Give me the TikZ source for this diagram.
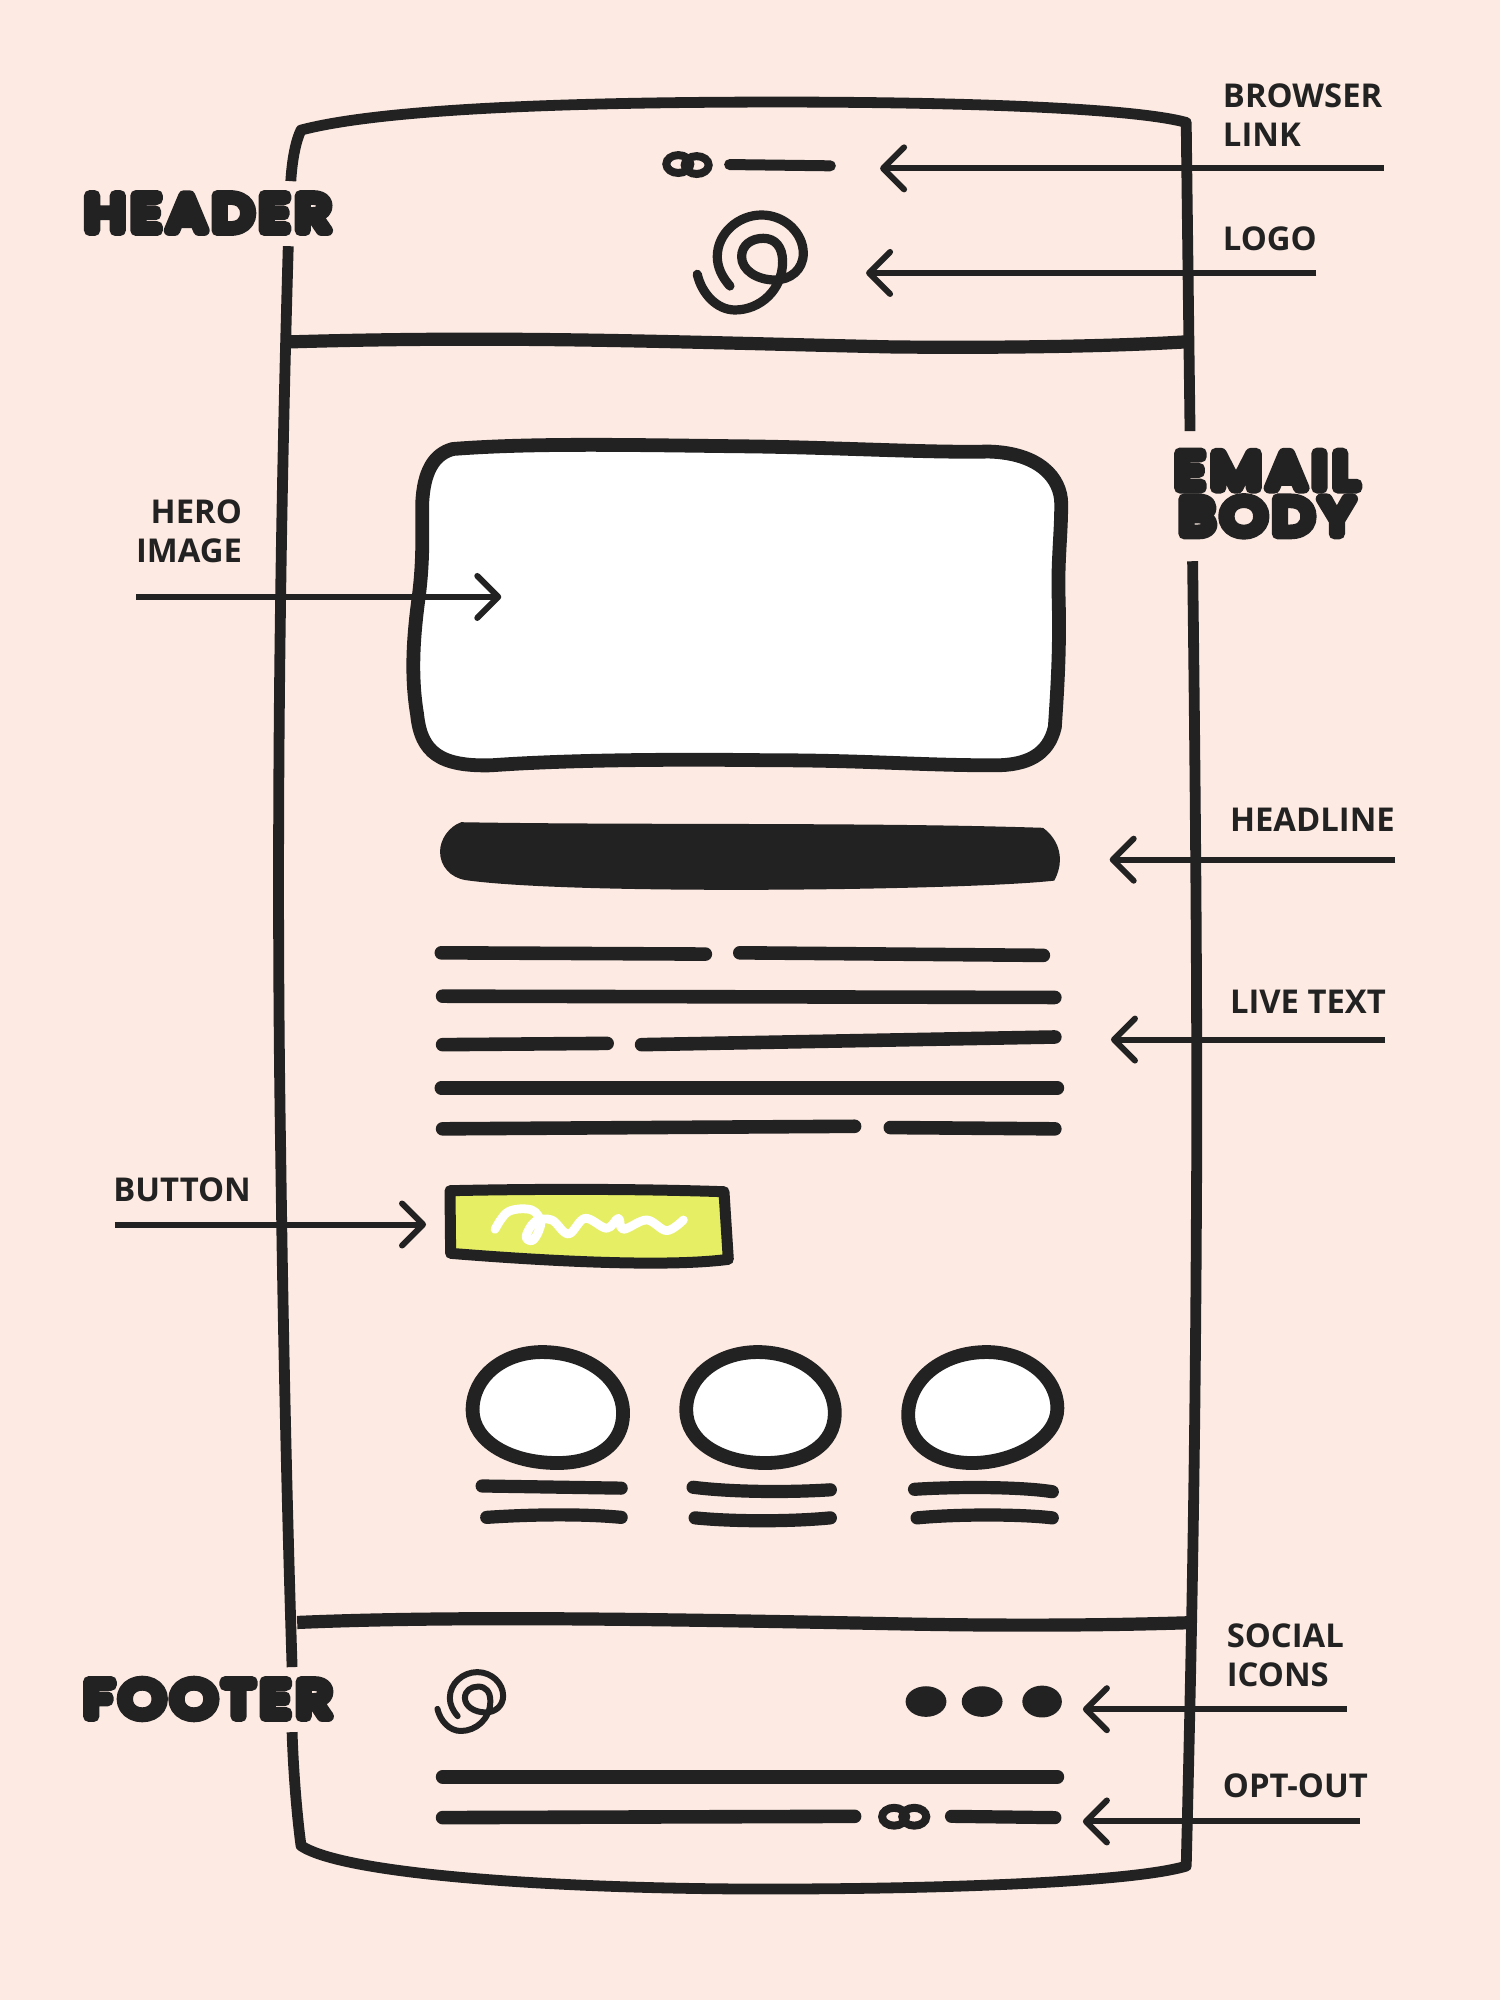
\documentclass[tikz,border=0pt]{standalone}
\usepackage{fontspec}
\usetikzlibrary{arrows.meta}
\setmainfont{Open Sans}[UprightFont=* Bold]
\newfontfamily\bubblefont{Poppins}[FakeBold=22,FakeStretch=1.15,LetterSpace=13]
\definecolor{bgc}{HTML}{FDEAE2}
\definecolor{ink}{HTML}{222222}
\definecolor{btn}{HTML}{E6EE63}
\newcommand{\logomark}[1]{%
  \draw[ink,line width=#1,line cap=round,line join=round] (210,468) .. controls (185,440) and (172,410) .. (172,380) .. controls (172,310) and (235,255) .. (305,255) .. controls (375,255) and (430,310) .. (430,370) .. controls (430,420) and (390,450) .. (345,450) .. controls (290,450) and (245,420) .. (245,380) .. controls (245,345) and (275,325) .. (310,325) .. controls (345,325) and (368,350) .. (368,395) .. controls (368,480) and (300,540) .. (225,540) .. controls (170,540) and (125,490) .. (112,433);}
\tikzset{
  frameline/.style={ink,line width=5.4pt,line cap=butt,line join=round},
  band/.style={ink,line width=6.6pt,line cap=butt},
  textline/.style={ink,line width=6.8pt,line cap=round},
  subline/.style={ink,line width=6.6pt,line cap=round},
  pointer/.style={ink,line width=3pt,line cap=butt,-{Straight Barb[length=10.5pt,width=21pt,line width=3pt,round]}},
  blob/.style={ink,fill=white,line width=6.9pt,line join=round},
  ring/.style={ink,line width=4pt},
  caption/.style={ink,font=\fontsize{16.4}{19.6}\selectfont,inner sep=0pt,align=left},
  bubble/.style={ink,line join=round,font=\fontsize{25}{22.9}\selectfont\bubblefont\special{pdf:code 1 j 1 J},inner sep=0pt,align=center},
}
\begin{document}
\begin{tikzpicture}[x=0.63776pt,y=-0.63776pt]
\useasboundingbox[fill=bgc] (0,0) rectangle (1176,1568);
% frame
\draw[frameline] (228,142) .. controls (229,125) and (232,110) .. (236,102) .. controls (300,85) and (450,80) .. (610,80) .. controls (760,80) and (890,85) .. (930,96) .. controls (931,180) and (932,260) .. (933,338);
\draw[frameline] (226,193) .. controls (220,400) and (216,650) .. (220,900) .. controls (222,1050) and (225,1180) .. (229,1307);
\draw[frameline] (229,1358) .. controls (230,1390) and (233,1425) .. (236,1447) .. controls (270,1470) and (440,1481) .. (600,1481) .. controls (750,1481) and (890,1475) .. (930,1463) .. controls (934,1300) and (937,1150) .. (938,950) .. controls (939,800) and (937,600) .. (935,440);
\draw[band] (228,268) .. controls (400,263) and (520,268) .. (700,272) .. controls (800,273) and (880,271) .. (930,268);
\draw[band] (233,1272) .. controls (350,1267) and (500,1269) .. (700,1273) .. controls (800,1275) and (880,1274) .. (938,1272);
% browser link
\draw[ring] (531.8,128.6) circle[x radius=9.4,y radius=7];
\draw[ring] (546.2,129.4) circle[x radius=9.4,y radius=7];
\draw[ink,line width=5.5pt,line cap=round] (572,129) -- (651,130);
% logo
\begin{scope}[shift={(517.4,101.9)},x=.16667pt,y=-.16667pt]
\logomark{4.6pt}
\end{scope}
% hero
\draw[blob] (355,352) .. controls (420,347) and (500,349) .. (590,350) .. controls (660,351) and (730,355) .. (775,354) .. controls (815,355) and (832,375) .. (832,395) .. controls (832,420) and (829,440) .. (830,470) .. controls (831,510) and (829,540) .. (827,570) .. controls (822,592) and (805,600) .. (780,600) .. controls (720,600) and (680,596) .. (600,596) .. controls (520,595) and (440,596) .. (385,600) .. controls (345,601) and (330,590) .. (327,560) .. controls (322,530) and (324,500) .. (328,470) .. controls (332,440) and (331,420) .. (331,395) .. controls (332,370) and (340,356) .. (355,352) -- cycle;
% headline
\fill[ink] (361.6,644.6) .. controls (500,647) and (680,644.5) .. (817.7,649) .. controls (826,655) and (831,664) .. (831,674) .. controls (831,680) and (829,686) .. (826.5,690.4) .. controls (760,698) and (450,702) .. (365,690) .. controls (353,688) and (345,679) .. (345,667.7) .. controls (345,658) and (352,648) .. (361.6,644.6) -- cycle;
% live text
\draw[textline] (346,747) -- (553,748);
\draw[textline] (580,747) -- (818,749);
\draw[textline] (347,781) -- (827,782);
\draw[textline] (347,819) -- (476,818);
\draw[textline] (503,819) -- (827,813);
\draw[textline] (346,853) -- (829,853);
\draw[textline] (347,885) -- (670,883);
\draw[textline] (698,884) -- (827,885);
% button
\draw[ink,fill=btn,line width=5.5pt,line join=round] (352.8,933.5) .. controls (420,932) and (500,932) .. (567.6,934.3) -- (571,987.3) .. controls (520,994) and (420,988) .. (353.3,982.6) -- cycle;
\begin{scope}[shift={(329.3,909.4)},x=.16667pt,y=-.16667pt]
\draw[white,line width=4.4pt,line cap=round,line join=round] plot[smooth,tension=.6] coordinates {(225,208) (265,155) (335,150) (362,190) (340,240) (318,230) (345,185) (395,180) (445,222) (495,175) (560,205) (595,175) (610,208) (680,180) (740,212) (790,180)};
\end{scope}
% images
\draw[blob] (370.5,1105.5) .. controls (370.5,1079) and (395,1060) .. (425,1060) .. controls (462,1060) and (488.5,1082) .. (488.5,1108) .. controls (488.5,1132) and (468,1147) .. (437,1147) .. controls (400,1147) and (370.5,1130) .. (370.5,1105.5) -- cycle;
\draw[blob] (538,1105.5) .. controls (538,1079) and (563,1060) .. (594,1060) .. controls (629,1060) and (654.5,1082) .. (654.5,1108) .. controls (654.5,1132) and (632,1147) .. (600,1147) .. controls (565,1147) and (538,1130) .. (538,1105.5) -- cycle;
\draw[blob] (712,1109.5) .. controls (712,1082) and (738,1060) .. (773.5,1060) .. controls (805,1060) and (829,1080) .. (829,1104) .. controls (829,1128) and (795,1147) .. (762,1147) .. controls (733,1147) and (712,1132) .. (712,1109.5) -- cycle;
\draw[subline] (378,1165) -- (487,1166.7);
\draw[subline] (381.6,1189.6) .. controls (420,1187) and (460,1187) .. (487,1189.6);
\draw[subline] (543.4,1166) .. controls (575,1170) and (620,1170) .. (651,1168);
\draw[subline] (545,1190) .. controls (575,1193) and (620,1193) .. (651,1190);
\draw[subline] (717,1167.6) .. controls (750,1165.5) and (800,1165.5) .. (825,1169.5);
\draw[subline] (719,1190) .. controls (750,1187) and (800,1187) .. (825,1190);
% footer
\begin{scope}[shift={(324.8,1269.6)},x=.10333pt,y=-.10333pt]
\logomark{3pt}
\end{scope}
\fill[ink] (726,1334) ellipse[x radius=16,y radius=12];
\fill[ink] (770,1334) ellipse[x radius=16,y radius=12];
\fill[ink] (817,1334) ellipse[x radius=15.5,y radius=12.5];
\draw[textline] (347,1393) -- (829,1393);
\draw[textline] (347,1425) -- (670,1424);
\draw[ring] (701,1424.3) circle[x radius=9.4,y radius=7];
\draw[ring] (716.8,1424.3) circle[x radius=9.4,y radius=7];
\draw[ink,line width=6.6pt,line cap=round] (746,1424) -- (827,1425);
% captions
\node[caption,anchor=north west] (browser) at (958.5,65) {BROWSER\\LINK};
\node[caption,anchor=west] (logotext) at (958.5,187) {LOGO};
\node[caption,anchor=north east,align=right] (hero) at (190,391.5) {HERO\\IMAGE};
\node[caption,anchor=west] (headline) at (964,643) {HEADLINE};
\node[caption,anchor=west] (live) at (964,785) {LIVE TEXT};
\node[caption,anchor=west] (button) at (88.5,933) {BUTTON};
\node[caption,anchor=north west] (social) at (961.5,1272.5) {SOCIAL\\ICONS};
\node[caption,anchor=west] (optout) at (958.5,1400) {OPT-OUT};
\node[bubble] (headerlabel) at (163,167) {HEADER};
\node[bubble] (emailbody) at (993,387) {EMAIL\\BODY};
\node[bubble] (footerlabel) at (163,1332) {FOOTER};
% connectors
\coordinate (a1) at (1085,132); \coordinate (b1) at (690,132);
\coordinate (a2) at (1032,214); \coordinate (b2) at (679,214);
\coordinate (a3) at (107,468);  \coordinate (b3) at (393,468);
\coordinate (a4) at (1094,674); \coordinate (b4) at (870,674);
\coordinate (a5) at (1086,815); \coordinate (b5) at (871,815);
\coordinate (a6) at (90,960);   \coordinate (b6) at (334,960);
\coordinate (a7) at (1056,1340);\coordinate (b7) at (849,1340);
\coordinate (a8) at (1066,1428);\coordinate (b8) at (849,1428);
\draw[pointer] (a1) -- (b1);
\draw[pointer] (a2) -- (b2);
\draw[pointer] (a3) -- (b3);
\draw[pointer] (a4) -- (b4);
\draw[pointer] (a5) -- (b5);
\draw[pointer] (a6) -- (b6);
\draw[pointer] (a7) -- (b7);
\draw[pointer] (a8) -- (b8);
\end{tikzpicture}
\end{document}
